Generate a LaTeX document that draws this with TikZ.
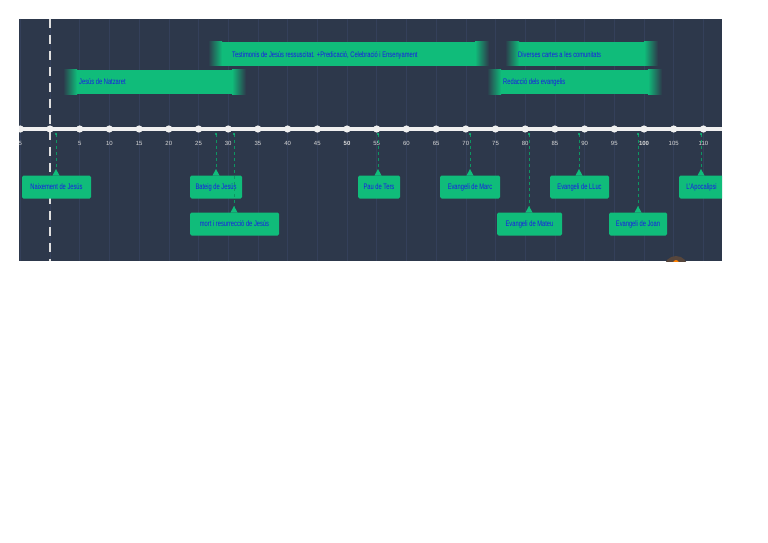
\documentclass[tikz,border=0pt]{standalone}
\usepackage{fontspec}
\setmainfont{Liberation Sans}
\usepackage{graphicx}
\definecolor{panel}{HTML}{2D384B}
\definecolor{grn}{HTML}{10BC7A}
\definecolor{txt}{HTML}{1A1AE6}
\definecolor{grid}{HTML}{34405A}
\newcommand{\nt}[1]{\scalebox{0.72}[1]{#1}}
\newcommand{\fadebar}[4]{%
 \shade[left color=panel,right color=grn] (#1,#3) rectangle ({#1+14},#4);
 \fill[grn] ({#1+14},#3) rectangle ({#2-14},#4);
 \shade[left color=grn,right color=panel] ({#2-14},#3) rectangle (#2,#4);}
\newcommand{\evt}[6]{% name, marker x, box center x, box center y, width, text
 \node[box,minimum width=#5pt] (#1) at (#3,#4) {\nt{#6}};
 \fill[grn] ({#2-3.5},{#4-11.5}) -- (#2,{#4-18}) -- ({#2+3.5},{#4-11.5}) -- cycle;
 \coordinate (#1m) at (#2,134);
 \draw[lead] (#1m) -- (#2,{#4-17});
 \fill[grn] (#2,134) circle (1.2pt);}
\begin{document}
\begin{tikzpicture}[x=1pt,y=-1pt,
  lbl/.style={font=\fontsize{8}{9}\selectfont,text=txt,inner sep=0pt},
  box/.style={fill=grn,rounded corners=1.5pt,minimum height=23pt,inner sep=2pt,font=\fontsize{8}{9}\selectfont,text=txt},
  lead/.style={grn!80!black,dashed,line width=0.8pt},
  tick/.style={font=\fontsize{6}{7}\selectfont,text=white!85!black,inner sep=0pt}]
\useasboundingbox (0,0) rectangle (768,543);
\fill[white] (0,0) rectangle (768,543);
\begin{scope}
\clip (19,19) rectangle (722,261);
\fill[panel] (19,19) rectangle (722,261);
\foreach \i in {-1,...,22} {\draw[grid,line width=0.5pt] ({50+29.7*\i},19) -- ({50+29.7*\i},261);}
\draw[white!75!gray,line width=1.5pt,dash pattern=on 9pt off 7pt] (50,19) -- (50,261);
\fadebar{208}{489}{42}{66}
\fadebar{505}{658}{42}{66}
\fadebar{63}{246}{70}{94}
\fadebar{487}{662}{70}{94}
\node[lbl,anchor=west] (b1) at (232,55) {\nt{Testimonis de Jesús ressuscitat. +Predicació, Celebració i Ensenyament}};
\node[lbl,anchor=west] (b2) at (518,55) {\nt{Diverses cartes a les comunitats}};
\node[lbl,anchor=west] (b3) at (79,82) {\nt{Jesús de Natzaret}};
\node[lbl,anchor=west] (b4) at (503,82) {\nt{Redacció dels evangelis}};
\draw[white!88!gray,line width=4pt] (19,129) -- (722,129);
\foreach \i [evaluate=\i as \x using 50+29.7*\i] in {-1,...,22} {
  \fill[white!88!gray] (\x,129) circle (3.6pt);}
\node[tick] at (20.3,143) {5};
\foreach \i [evaluate=\i as \x using 50+29.7*\i, evaluate=\i as \v using int(5*\i)] in {1,...,22} {
  \node[tick] at (\x,143) {\ifnum\v=50 \textbf{50}\else\ifnum\v=100 \textbf{100}\else\v\fi\fi};}
\evt{e1}{56}{56.5}{187}{69}{Naixement de Jesús}
\evt{e2}{216}{216}{187}{52}{Bateig de Jesús}
\evt{e3}{234}{234.5}{224}{89}{mort i resurrecció de Jesús}
\evt{e4}{378}{379}{187}{42}{Pau de Ters}
\evt{e5}{470}{470}{187}{60}{Evangeli de Marc}
\evt{e6}{529}{529.5}{224}{65}{Evangeli de Mateu}
\evt{e7}{579}{579.5}{187}{59}{Evangeli de LLuc}
\evt{e8}{638}{638}{224}{58}{Evangeli de Joan}
\evt{e9}{701}{701.5}{187}{45}{L'Apocalipsi}
\fill[panel!80!orange] (676,268) circle (12pt);
\fill[orange] (676,263) circle (3pt);
\end{scope}
\end{tikzpicture}
\end{document}
